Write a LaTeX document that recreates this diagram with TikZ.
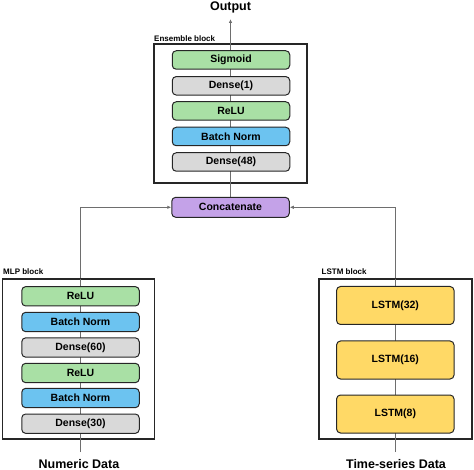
\documentclass[tikz,border=0pt]{standalone}
\usepackage{fontspec}
\setmainfont{Liberation Sans}
\usetikzlibrary{arrows.meta}
\definecolor{cgreen}{HTML}{A9E0A5}
\definecolor{cgray}{HTML}{D9D9D9}
\definecolor{cblue}{HTML}{6CC3F0}
\definecolor{cpurple}{HTML}{C4A2E8}
\definecolor{cyellow}{HTML}{FFD966}
\definecolor{cline}{HTML}{6E6E6E}
\begin{document}
\begin{tikzpicture}[x=1pt,y=-1pt,
  layer/.style={draw=black!85, line width=1pt, rounded corners=4pt, minimum width=117.5pt, minimum height=18.5pt, inner sep=0pt, font=\fontsize{10.5}{12}\selectfont\bfseries},
  greenl/.style={layer, fill=cgreen},
  grayl/.style={layer, fill=cgray},
  bluel/.style={layer, fill=cblue},
  lstml/.style={layer, fill=cyellow, minimum height=38pt},
  blockbox/.style={draw=black!85, line width=1.3pt, inner sep=0pt},
  blocklabel/.style={anchor=south west, inner sep=0pt, font=\fontsize{8}{10}\selectfont\bfseries},
  bigtext/.style={inner sep=0pt, font=\fontsize{12.5}{14}\selectfont\bfseries},
  conn/.style={draw=cline, line width=0.8pt},
  arr/.style={conn, -{Latex[length=4pt,width=3.5pt]}}
]
\useasboundingbox (0,0) rectangle (474,470);
% block boxes
\node[blockbox, minimum width=153pt, minimum height=139pt] (ens) at (230.5,113.5) {};
\node[blockbox, minimum width=152pt, minimum height=160pt] (mlp) at (78.5,359) {};
\node[blockbox, minimum width=153pt, minimum height=160pt] (lstm) at (395.5,359) {};
\node[blocklabel] (enslab) at (154,42) {Ensemble block};
\node[blocklabel] (mlplab) at (3,275) {MLP block};
\node[blocklabel] (lstmlab) at (321.5,275) {LSTM block};
% texts
\node[bigtext] (out) at (230.5,7) {Output};
\node[bigtext] (num) at (79,464) {Numeric Data};
\node[bigtext] (ts) at (396,464) {Time-series Data};
\coordinate (outarr) at (230.5,19);
\coordinate (numtop) at (80.5,452);
\coordinate (tstop) at (395.3,452);
% background connector lines
\coordinate (ctop) at (230.5,197.3);
\draw[arr] (ctop) -- (outarr);
\draw[conn] (numtop) -- (80.5,279);
\draw[conn] (tstop) -- (395.3,279);
% ensemble layers
\node[greenl] (sig) at (231,60) {Sigmoid};
\node[grayl] (d1) at (231,85.8) {Dense(1)};
\node[greenl] (er) at (231,111) {ReLU};
\node[bluel] (ebn) at (231,136.5) {Batch Norm};
\node[grayl] (d48) at (231,162) {Dense(48)};
% concatenate
\node[layer, fill=cpurple, minimum height=20pt] (cat) at (230.5,207.3) {Concatenate};
% MLP layers
\node[greenl, minimum height=19.4pt] (m1) at (80.5,296.3) {ReLU};
\node[bluel, minimum height=19.4pt] (m2) at (80.5,322) {Batch Norm};
\node[grayl, minimum height=19.4pt] (m3) at (80.5,347.5) {Dense(60)};
\node[greenl, minimum height=19.4pt] (m4) at (80.5,373) {ReLU};
\node[bluel, minimum height=19.4pt] (m5) at (80.5,398) {Batch Norm};
\node[grayl, minimum height=19.4pt] (m6) at (80.5,423.7) {Dense(30)};
% LSTM layers
\node[lstml] (l1) at (395.3,305.5) {LSTM(32)};
\node[lstml] (l2) at (395.3,360) {LSTM(16)};
\node[lstml] (l3) at (395.3,414) {LSTM(8)};
% connectors to concatenate
\draw[arr] (mlp.north -| m1) |- (cat.west);
\draw[arr] (lstm.north -| l1) |- (cat.east);
\end{tikzpicture}
\end{document}
